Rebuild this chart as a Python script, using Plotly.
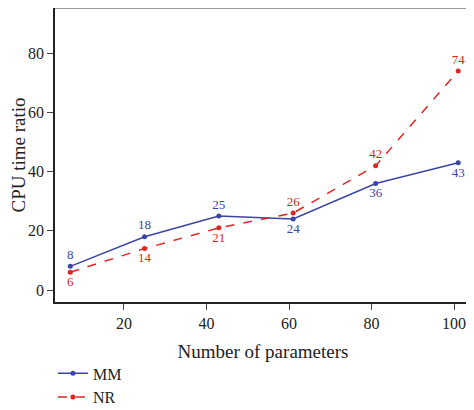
import plotly.graph_objects as go

# number of parameters and CPU time ratios
n_params = [7, 25, 43, 61, 81, 101]
mm_ratio = [8, 18, 25, 24, 36, 43]
nr_ratio = [6, 14, 21, 26, 42, 74]

x_ticks = [20, 40, 60, 80, 100]
y_ticks = [0, 20, 40, 60, 80]

blue = "#3a45a6"
red = "#e02520"
serif = "Liberation Serif, Times New Roman, serif"

fig = go.Figure()
fig.add_trace(go.Scatter(x=n_params, y=mm_ratio, name="MM",
                         mode="lines+markers+text",
                         line=dict(color=blue, width=1.5),
                         marker=dict(color=blue, size=5),
                         text=[str(v) for v in mm_ratio],
                         textposition=["top center", "top center", "top center",
                                       "bottom center", "bottom center", "bottom center"],
                         textfont=dict(family=serif, size=13, color=blue)))
fig.add_trace(go.Scatter(x=n_params, y=nr_ratio, name="NR",
                         mode="lines+markers+text",
                         line=dict(color=red, width=1.5, dash="dash"),
                         marker=dict(color=red, size=5),
                         text=[str(v) for v in nr_ratio],
                         textposition=["bottom center", "bottom center", "bottom center",
                                       "top center", "top center", "top center"],
                         textfont=dict(family=serif, size=13, color=red)))

# page body has an 8px margin, so the figure is sized a bit smaller
fig.update_layout(
    width=466, height=402,
    margin=dict(l=47, r=3, t=0, b=108, autoexpand=False),
    plot_bgcolor="white", paper_bgcolor="white",
    font=dict(family=serif, size=16, color="#222"),
    showlegend=True,
    legend=dict(orientation="v", x=-0.005, xanchor="left", y=-0.185, yanchor="top",
                font=dict(family=serif, size=16, color="#222"),
                itemwidth=30, tracegroupgap=0, bgcolor="rgba(0,0,0,0)"),
    xaxis=dict(range=[3.3, 104.1], tickvals=x_ticks, ticks="outside", ticklen=6,
               showline=True, linecolor="#222", linewidth=1.5, mirror=False,
               showgrid=False, zeroline=False,
               title=dict(text="Number of parameters", standoff=14)),
    yaxis=dict(range=[-4.05, 95.3], tickvals=y_ticks, ticks="outside", ticklen=6,
               showline=True, linecolor="#222", linewidth=1.5, mirror=False,
               showgrid=False, zeroline=False,
               title=dict(text="CPU time ratio", standoff=6)),
)

# frame: dark right side, grey top edge as in the picture
fig.add_shape(type="line", xref="paper", yref="paper", x0=1, x1=1, y0=0, y1=1,
              line=dict(color="#222", width=1.5))
fig.add_shape(type="line", xref="paper", yref="paper", x0=0, x1=1, y0=1, y1=1,
              line=dict(color="#999", width=2))

fig.write_html("out.html")
